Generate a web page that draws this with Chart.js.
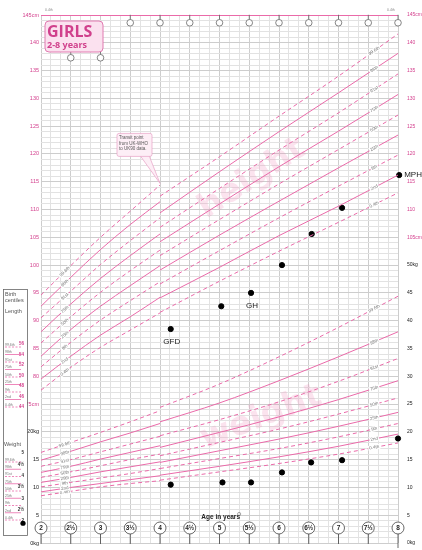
<!DOCTYPE html>
<html>
<head>
<meta charset="utf-8">
<script src="https://cdn.jsdelivr.net/npm/chart.js@4/dist/chart.umd.min.js"></script>
<style>
  html, body { margin: 0; padding: 0; background: #fff; overflow: hidden; }
  #wrap { width: 422px; height: 550px; }
</style>
</head>
<body>
<div id="wrap"><canvas id="chart" width="422" height="550"></canvas></div>
<script>
// centile curves (0.4th .. 99.6th)
const centileNames = ['0.4th', '2nd', '9th', '25th', '50th', '75th', '91st', '98th', '99.6th'];
const whoAges = [2, 2.5, 3, 3.5, 4];
const ukAges = [4, 5, 6, 7, 8];

const heightWho = [
  [77.5, 81.6, 85.2, 88.3, 91.4],
  [79.5, 83.6, 87.4, 90.7, 94.2],
  [81.7, 86.1, 90.1, 93.6, 97.0],
  [83.6, 88.4, 92.6, 96.3, 99.9],
  [86.0, 90.7, 95.1, 99.0, 102.7],
  [88.0, 93.0, 97.6, 101.7, 105.6],
  [90.5, 95.3, 100.1, 104.4, 108.5],
  [92.6, 97.8, 102.8, 107.3, 111.4],
  [94.6, 99.9, 105.0, 109.7, 114.4]
];
const heightUk = [
  [91.5, 97.1, 102.5, 107.7, 113.0],
  [94.1, 99.6, 105.3, 110.6, 116.2],
  [96.6, 102.6, 108.5, 114.2, 119.8],
  [99.1, 105.4, 111.5, 117.5, 123.4],
  [101.7, 108.2, 114.6, 120.8, 127.0],
  [104.2, 111.0, 117.7, 124.1, 130.7],
  [106.8, 113.8, 120.7, 127.4, 134.4],
  [109.4, 116.8, 124.0, 131.0, 138.1],
  [112.4, 119.5, 126.8, 134.0, 141.6]
];
const weightWho = [
  [8.5, 9.3, 10.1, 10.7, 11.2],
  [9.2, 10.0, 10.7, 11.4, 12.1],
  [10.1, 10.9, 11.7, 12.5, 13.4],
  [10.9, 11.8, 12.8, 13.7, 14.6],
  [11.8, 12.8, 13.9, 15.0, 16.0],
  [12.7, 13.8, 15.1, 16.3, 17.5],
  [13.8, 15.0, 16.4, 17.8, 19.2],
  [14.9, 16.5, 18.2, 19.8, 21.5],
  [16.3, 18.1, 19.9, 21.8, 23.8]
];
const weightUk = [
  [11.3, 12.8, 14.3, 16.0, 18.0],
  [12.2, 13.8, 15.5, 17.4, 19.6],
  [13.4, 15.2, 17.0, 19.1, 21.5],
  [14.5, 16.6, 18.7, 21.0, 23.5],
  [15.7, 18.1, 20.5, 23.2, 26.1],
  [17.2, 19.9, 22.7, 25.8, 29.2],
  [19.3, 22.2, 25.4, 29.1, 33.2],
  [21.8, 25.2, 29.2, 33.5, 38.0],
  [24.4, 28.6, 33.5, 38.8, 44.4]
];

// the child's measurements
const heightAges = [4.18, 5.03, 5.53, 6.05, 6.55, 7.06];
const childHeight = [88.5, 92.6, 95.0, 100.0, 105.6, 110.3];
const heightNotes = ['GFD', '', 'GH', '', '', ''];
const mphAge = [8.02];
const mphHeight = [116.2];
const weightAges = [4.18, 5.05, 5.53, 6.05, 6.54, 7.06, 8.0];
const childWeight = [10.5, 10.9, 10.9, 12.7, 14.5, 14.9, 18.8];
const birthWeight = 1.9;

// axis decorations
const ageTicks = [2, 2.5, 3, 3.5, 4, 4.5, 5, 5.5, 6, 6.5, 7, 7.5, 8];
const ageTickLabels = ['2', '2½', '3', '3½', '4', '4½', '5', '5½', '6', '6½', '7', '7½', '8'];
const milestoneAges = [2.5, 3, 3.5, 4, 4.5, 5, 5.5, 6, 6.5, 7, 7.5, 8];
const milestoneLevel = [137.3, 137.3, 143.6, 143.6, 143.6, 143.6, 143.6, 143.6, 143.6, 143.6, 143.6, 143.6];
const birthLengthTicks = ['56', '54', '52', '50', '48', '46', '44'];
const birthWeightTicks = [5, 4.5, 4, 3.5, 3, 2.5, 2];

const pink = '#ea6aa9';
const pinkText = '#d4418e';
const font = '"Liberation Sans", Arial, sans-serif';

const datasets = [];
function addCentiles(ages, table, axis) {
  table.forEach((vals, i) => {
    datasets.push({
      data: ages.map((a, j) => ({ x: a, y: vals[j] })),
      yAxisID: axis,
      borderColor: pink,
      borderWidth: 1,
      borderDash: i % 2 === 0 ? [4, 3] : [],
      pointRadius: 0,
      cubicInterpolationMode: 'monotone',
      fill: false
    });
  });
}
addCentiles(whoAges, heightWho, 'y');
addCentiles(ukAges, heightUk, 'y');
addCentiles(whoAges, weightWho, 'yW');
addCentiles(ukAges, weightUk, 'yW');

const dot = { showLine: false, pointRadius: 2.6, backgroundColor: '#000', borderColor: '#000', clip: false };
datasets.push(Object.assign({ data: heightAges.map((a, i) => ({ x: a, y: childHeight[i] })), yAxisID: 'y' }, dot));
datasets.push(Object.assign({ data: mphAge.map((a, i) => ({ x: a, y: mphHeight[i] })), yAxisID: 'y' }, dot));
datasets.push(Object.assign({ data: weightAges.map((a, i) => ({ x: a, y: childWeight[i] })), yAxisID: 'yW' }, dot));
datasets.push({
  data: milestoneAges.map((a, i) => ({ x: a, y: milestoneLevel[i] })),
  yAxisID: 'y', showLine: false, pointRadius: 3.3, borderWidth: 0.8,
  backgroundColor: '#fff', borderColor: '#666', clip: false
});

function valAt(ages, vals, a) {
  for (let j = 0; j < ages.length - 1; j++) {
    if (a >= ages[j] && a <= ages[j + 1]) {
      const t = (a - ages[j]) / (ages[j + 1] - ages[j]);
      return vals[j] + t * (vals[j + 1] - vals[j]);
    }
  }
  return vals[vals.length - 1];
}

function centileLabels(ctx, x, scale, ages, table, age) {
  ctx.font = '4.5px ' + font;
  ctx.textAlign = 'center';
  ctx.textBaseline = 'middle';
  table.forEach((vals, i) => {
    const px = x.getPixelForValue(age), py = scale.getPixelForValue(valAt(ages, vals, age));
    const x0 = x.getPixelForValue(age - 0.1), y0 = scale.getPixelForValue(valAt(ages, vals, age - 0.1));
    const x1 = x.getPixelForValue(age + 0.1), y1 = scale.getPixelForValue(valAt(ages, vals, age + 0.1));
    const ang = Math.atan2(y1 - y0, x1 - x0);
    ctx.save();
    ctx.translate(px, py);
    ctx.rotate(ang);
    const w = ctx.measureText(centileNames[i]).width + 2;
    ctx.fillStyle = '#fff';
    ctx.fillRect(-w / 2, -2.5, w, 5);
    ctx.fillStyle = '#777';
    ctx.fillText(centileNames[i], 0, 0);
    ctx.restore();
  });
}

function roundRect(ctx, x, y, w, h, r) {
  ctx.beginPath();
  ctx.moveTo(x + r, y);
  ctx.arcTo(x + w, y, x + w, y + h, r);
  ctx.arcTo(x + w, y + h, x, y + h, r);
  ctx.arcTo(x, y + h, x, y, r);
  ctx.arcTo(x, y, x + w, y, r);
  ctx.closePath();
}

const decor = {
  id: 'decor',
  beforeDatasetsDraw(chart) {
    const { ctx, scales: { x, y, yW } } = chart;
    ctx.save();
    // watermarks
    ctx.fillStyle = 'rgba(238,140,185,0.24)';
    ctx.font = 'bold 33px "DejaVu Sans", sans-serif';
    ctx.textAlign = 'center';
    ctx.textBaseline = 'middle';
    ctx.save();
    ctx.translate(x.getPixelForValue(5.55), y.getPixelForValue(115.5));
    ctx.rotate(-33 * Math.PI / 180);
    ctx.fillText('height', 0, 0);
    ctx.restore();
    ctx.save();
    ctx.translate(x.getPixelForValue(5.7), yW.getPixelForValue(22.5));
    ctx.rotate(-21 * Math.PI / 180);
    ctx.fillText('weight', 0, 0);
    ctx.restore();
    // milestone stems
    ctx.strokeStyle = '#666';
    ctx.lineWidth = 0.8;
    milestoneAges.forEach((a, i) => {
      const px = x.getPixelForValue(a), py = y.getPixelForValue(milestoneLevel[i]);
      ctx.beginPath();
      ctx.moveTo(px, py - 3);
      ctx.lineTo(px, py - 8);
      ctx.stroke();
    });
    ctx.restore();
  },
  afterDatasetsDraw(chart) {
    const { ctx, chartArea: area, scales: { x, y, yW } } = chart;
    ctx.save();

    centileLabels(ctx, x, y, whoAges, heightWho, 2.4);
    centileLabels(ctx, x, y, ukAges, heightUk, 7.6);
    centileLabels(ctx, x, yW, whoAges, weightWho, 2.4);
    centileLabels(ctx, x, yW, ukAges, weightUk, 7.6);

    // title box
    roundRect(ctx, 45, 21, 58, 31, 4);
    ctx.fillStyle = '#fbe1ef';
    ctx.fill();
    ctx.strokeStyle = '#e07ab0';
    ctx.lineWidth = 1;
    ctx.stroke();
    ctx.fillStyle = '#d0408c';
    ctx.textAlign = 'left';
    ctx.textBaseline = 'alphabetic';
    ctx.font = 'bold 16px "Open Sans", sans-serif';
    ctx.fillText('GIRLS', 47, 37);
    ctx.font = 'bold 9px "Open Sans", sans-serif';
    ctx.fillText('2-8 years', 47, 48);

    // tiny top texts
    ctx.fillStyle = '#888';
    ctx.font = '3.5px ' + font;
    ctx.fillText('0.4th', 45, 11);
    ctx.fillText('0.4th', 387, 11);

    // transit callout
    const tx = x.getPixelForValue(4), ty = y.getPixelForValue(114.7);
    ctx.beginPath();
    ctx.moveTo(tx - 20, ty - 28);
    ctx.lineTo(tx, ty);
    ctx.lineTo(tx - 11, ty - 28);
    ctx.closePath();
    ctx.fillStyle = '#fdeef6';
    ctx.fill();
    ctx.strokeStyle = '#e8a0c5';
    ctx.lineWidth = 0.7;
    ctx.stroke();
    roundRect(ctx, tx - 43, ty - 50, 35, 23, 2);
    ctx.fill();
    ctx.stroke();
    ctx.fillStyle = '#555';
    ctx.font = '4.5px ' + font;
    ctx.fillText('Transit point', tx - 41, ty - 44);
    ctx.fillText('from UK-WHO', tx - 41, ty - 38.5);
    ctx.fillText('to UK90 data.', tx - 41, ty - 33);

    // notes on the child's points
    ctx.fillStyle = '#222';
    ctx.font = '8px ' + font;
    ctx.textAlign = 'center';
    ctx.textBaseline = 'middle';
    heightNotes.forEach((t, i) => {
      if (!t) return;
      ctx.fillText(t, x.getPixelForValue(heightAges[i]) + 1, y.getPixelForValue(childHeight[i]) + 13);
    });
    ctx.textAlign = 'left';
    ctx.fillText('MPH', x.getPixelForValue(mphAge[0]) + 5, y.getPixelForValue(mphHeight[0]));

    // age circles along the bottom
    const cy = area.bottom - 15;
    ageTicks.forEach((a, i) => {
      const px = x.getPixelForValue(a);
      ctx.strokeStyle = '#444';
      ctx.lineWidth = 0.8;
      ctx.beginPath();
      ctx.moveTo(px, cy + 6);
      ctx.lineTo(px, area.bottom + (a === 8 ? 5 : 1));
      ctx.stroke();
      ctx.beginPath();
      ctx.arc(px, cy, 6, 0, Math.PI * 2);
      ctx.fillStyle = '#fff';
      ctx.fill();
      ctx.stroke();
      ctx.fillStyle = '#222';
      ctx.font = 'bold 6.5px ' + font;
      ctx.textAlign = 'center';
      ctx.fillText(ageTickLabels[i], px, cy + 0.5);
    });
    ctx.font = 'bold 6.5px ' + font;
    ctx.textAlign = 'center';
    ctx.fillStyle = '#222';
    ctx.fillText('Age in years', x.getPixelForValue(5.02), area.bottom - 26);
    ctx.beginPath();
    ctx.arc(x.getPixelForValue(5.33), area.bottom - 29, 1.6, 0, Math.PI * 2);
    ctx.strokeStyle = '#555';
    ctx.lineWidth = 0.5;
    ctx.stroke();

    // birth centile panel
    ctx.fillStyle = '#fff';
    ctx.fillRect(3, 289, 24, 246);
    ctx.strokeStyle = '#666';
    ctx.lineWidth = 0.8;
    ctx.strokeRect(3.5, 289.5, 24, 246);
    ctx.fillStyle = '#555';
    ctx.textAlign = 'left';
    ctx.font = '5.5px ' + font;
    ctx.fillText('Birth', 5, 294);
    ctx.fillText('centiles', 5, 300);
    ctx.fillText('Length', 5, 311);
    ctx.fillText('Weight', 4, 444);
    const rows = (top, bottom) => centileNames.map((c, i) => top + (bottom - top) * i / 8);
    [[345, 405], [460, 518]].forEach(([t, b]) => {
      rows(t, b).forEach((ry, i) => {
        const name = centileNames[8 - i];
        ctx.strokeStyle = pink;
        ctx.lineWidth = 0.8;
        ctx.setLineDash(i % 2 === 0 ? [2, 1.5] : []);
        ctx.beginPath();
        ctx.moveTo(5, ry + 2);
        ctx.lineTo(21, ry + 2);
        ctx.stroke();
        ctx.setLineDash([]);
        ctx.fillStyle = '#777';
        ctx.font = '3.5px ' + font;
        ctx.textAlign = 'left';
        ctx.fillText(name, 5, ry);
      });
    });
    ctx.fillStyle = pinkText;
    ctx.font = 'bold 4.5px ' + font;
    ctx.textAlign = 'right';
    birthLengthTicks.forEach((t, i) => ctx.fillText(t, 24, 344 + i * 10.5));
    const bwY = v => 453 + (5 - v) * (68 / 3);
    ctx.fillStyle = '#333';
    birthWeightTicks.forEach(v => ctx.fillText(String(v).replace('.5', '½'), 24, bwY(v)));
    ctx.beginPath();
    ctx.arc(23, bwY(birthWeight), 2.6, 0, Math.PI * 2);
    ctx.fillStyle = '#000';
    ctx.fill();

    ctx.restore();
  }
};

const monthTicks = [];
for (let i = 0; i <= 36; i++) monthTicks.push(2 + i / 6);
const cmTicks = [];
for (let v = 50; v <= 145; v++) cmTicks.push(v);
const kgTicks = [];
for (let v = 0; v <= 95; v += 5) kgTicks.push(v);

new Chart(document.getElementById('chart'), {
  type: 'line',
  data: { datasets: datasets },
  plugins: [decor],
  options: {
    responsive: false,
    animation: false,
    events: [],
    layout: { padding: { top: 15, bottom: 7, left: 0, right: 0 } },
    plugins: { legend: { display: false }, tooltip: { enabled: false } },
    scales: {
      x: {
        type: 'linear', min: 2, max: 8,
        afterBuildTicks: s => { s.ticks = monthTicks.map(v => ({ value: v })); },
        afterFit: s => { s.height = 0; },
        ticks: { display: false },
        border: { display: false },
        grid: {
          drawTicks: false,
          color: c => Math.abs(c.tick.value * 2 - Math.round(c.tick.value * 2)) < 1e-6 ? '#cdcdcd' : '#e2e2e2'
        }
      },
      y: {
        position: 'left', min: 50, max: 145,
        afterBuildTicks: s => { s.ticks = cmTicks.map(v => ({ value: v })); },
        afterFit: s => { s.width = 41; },
        border: { display: false },
        grid: {
          drawTicks: false,
          color: c => c.tick.value === 145 ? pink : (c.tick.value % 5 === 0 ? '#cdcdcd' : '#e2e2e2')
        },
        ticks: {
          autoSkip: false, padding: 2,
          font: { size: 5.5, family: font },
          color: c => c.tick.value >= 75 ? pinkText : '#222',
          callback: v => {
            if (v % 5 !== 0) return '';
            if (v >= 75) return (v === 145 || v === 75) ? v + 'cm' : String(v);
            const w = v - 50;
            return (w === 20 || w === 0) ? w + 'kg' : String(w);
          }
        }
      },
      yW: {
        position: 'right', min: 0, max: 95,
        afterBuildTicks: s => { s.ticks = kgTicks.map(v => ({ value: v })); },
        afterFit: s => { s.width = 24; },
        border: { display: false },
        grid: { display: false },
        ticks: {
          autoSkip: false, padding: 1,
          font: { size: 5, family: font },
          color: c => c.tick.value <= 50 ? '#222' : pinkText,
          callback: v => {
            if (v <= 50) return (v === 50 || v === 0) ? v + 'kg' : String(v);
            const h = v + 50;
            return (h === 145 || h === 105) ? h + 'cm' : String(h);
          }
        }
      }
    }
  }
});
</script>
</body>
</html>
